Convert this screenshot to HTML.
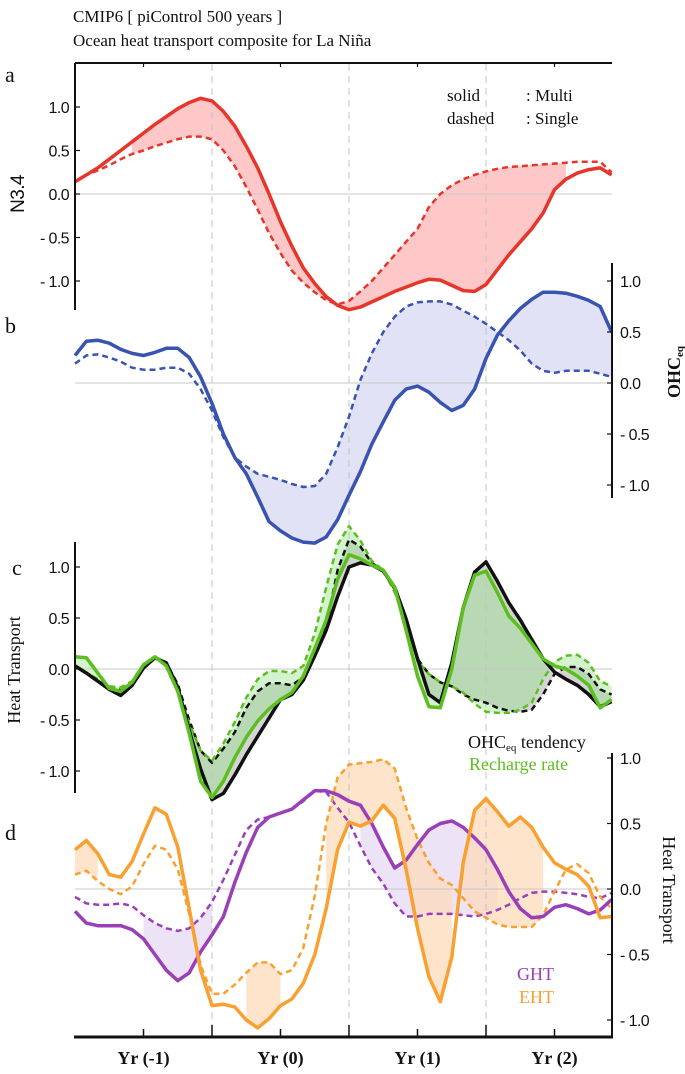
<!DOCTYPE html>
<html><head><meta charset="utf-8">
<style>
html,body{margin:0;padding:0;background:#fff;}
svg{display:block;}
.tk{font-family:"Liberation Sans",sans-serif;font-size:16px;fill:#111;letter-spacing:-0.6px;}
.sf{font-family:"Liberation Serif",serif;}
</style></head>
<body>
<svg id="chart" width="685" height="1074" viewBox="0 0 685 1074" xmlns="http://www.w3.org/2000/svg">
<text class="sf" x="73" y="22" font-size="17" fill="#111">CMIP6 [ piControl 500 years ]</text>
<text class="sf" x="73" y="46" font-size="17" fill="#111">Ocean heat transport composite for La Niña</text>
<g id="layer"></g>
</svg>
<script>
// ---- data (monthly, month 0 = start of Yr(-1)) ----
const n34Multi=[0.14,0.22,0.30,0.40,0.50,0.60,0.70,0.80,0.89,0.98,1.05,1.10,1.07,0.95,0.78,0.55,0.30,0.0,-0.32,-0.60,-0.85,-1.03,-1.18,-1.28,-1.33,-1.30,-1.24,-1.18,-1.12,-1.07,-1.02,-0.98,-0.99,-1.05,-1.11,-1.12,-1.04,-0.87,-0.70,-0.55,-0.40,-0.22,0.05,0.17,0.24,0.28,0.30,0.22];
const n34Single=[0.14,0.22,0.27,0.33,0.40,0.46,0.50,0.55,0.59,0.63,0.66,0.66,0.63,0.50,0.32,0.08,-0.18,-0.45,-0.68,-0.88,-1.02,-1.13,-1.22,-1.27,-1.23,-1.12,-1.0,-0.85,-0.70,-0.55,-0.40,-0.15,0.0,0.10,0.17,0.22,0.26,0.29,0.31,0.32,0.33,0.34,0.35,0.36,0.37,0.37,0.37,0.25];
const ohcMulti=[0.27,0.41,0.42,0.39,0.33,0.29,0.27,0.30,0.34,0.34,0.25,0.06,-0.20,-0.50,-0.73,-0.89,-1.12,-1.36,-1.45,-1.52,-1.56,-1.57,-1.51,-1.34,-1.10,-0.87,-0.60,-0.38,-0.17,-0.06,-0.03,-0.09,-0.19,-0.27,-0.22,-0.06,0.24,0.47,0.61,0.73,0.82,0.89,0.89,0.88,0.85,0.81,0.75,0.50];
const ohcSingle=[0.19,0.27,0.28,0.25,0.21,0.15,0.13,0.13,0.15,0.15,0.09,-0.06,-0.27,-0.53,-0.73,-0.82,-0.89,-0.92,-0.95,-0.99,-1.02,-1.01,-0.89,-0.63,-0.33,0.03,0.29,0.50,0.65,0.75,0.79,0.80,0.80,0.77,0.71,0.65,0.58,0.50,0.42,0.32,0.19,0.12,0.10,0.12,0.12,0.12,0.09,0.06];
const tendMulti=[0.03,-0.04,-0.12,-0.20,-0.26,-0.16,0.01,0.11,0.06,-0.18,-0.60,-0.98,-1.28,-1.22,-1.04,-0.84,-0.66,-0.48,-0.30,-0.25,-0.11,0.13,0.38,0.71,1.0,1.04,1.02,0.96,0.80,0.49,0.10,-0.25,-0.33,0.06,0.60,0.95,1.05,0.86,0.65,0.48,0.29,0.10,-0.03,-0.10,-0.16,-0.25,-0.37,-0.32];
const rechMulti=[0.12,0.11,-0.04,-0.19,-0.22,-0.13,0.04,0.12,0.03,-0.22,-0.63,-1.10,-1.26,-1.10,-0.87,-0.67,-0.51,-0.39,-0.30,-0.23,-0.07,0.20,0.48,0.88,1.12,1.08,1.02,0.97,0.80,0.38,-0.07,-0.37,-0.38,0.0,0.60,0.92,0.96,0.75,0.52,0.40,0.25,0.10,0.03,0.0,-0.07,-0.16,-0.38,-0.30];
const tendSingle=[0.03,-0.04,-0.10,-0.17,-0.21,-0.15,0.03,0.12,0.06,-0.15,-0.50,-0.80,-0.92,-0.78,-0.62,-0.38,-0.22,-0.14,-0.14,-0.16,-0.08,0.12,0.42,0.97,1.27,1.20,1.04,0.96,0.78,0.47,0.10,-0.05,-0.13,-0.17,-0.25,-0.30,-0.33,-0.38,-0.41,-0.42,-0.40,-0.25,-0.05,0.02,0.02,-0.05,-0.20,-0.25];
const rechSingle=[0.03,-0.04,-0.10,-0.17,-0.18,-0.12,0.05,0.12,0.03,-0.20,-0.53,-0.80,-0.90,-0.73,-0.52,-0.28,-0.10,-0.02,-0.02,-0.04,0.03,0.35,0.80,1.22,1.40,1.26,1.06,0.97,0.75,0.46,0.08,-0.05,-0.13,-0.17,-0.23,-0.34,-0.42,-0.43,-0.43,-0.40,-0.33,-0.10,0.07,0.13,0.14,0.06,-0.12,-0.17];
const ghtMulti=[-0.17,-0.26,-0.28,-0.28,-0.28,-0.31,-0.38,-0.50,-0.62,-0.70,-0.64,-0.48,-0.35,-0.21,0.05,0.28,0.47,0.55,0.58,0.61,0.68,0.75,0.75,0.72,0.67,0.64,0.50,0.32,0.16,0.22,0.34,0.45,0.50,0.52,0.47,0.39,0.30,0.15,-0.02,-0.15,-0.22,-0.21,-0.14,-0.12,-0.15,-0.19,-0.16,-0.08];
const ghtSingle=[-0.06,-0.11,-0.12,-0.12,-0.11,-0.13,-0.20,-0.26,-0.30,-0.32,-0.30,-0.22,-0.10,0.07,0.26,0.45,0.53,0.55,0.58,0.61,0.67,0.75,0.74,0.62,0.51,0.33,0.16,0.04,-0.11,-0.21,-0.21,-0.19,-0.19,-0.19,-0.20,-0.21,-0.19,-0.16,-0.12,-0.07,-0.03,-0.02,-0.02,-0.03,-0.04,-0.06,-0.07,-0.03];
const ehtMulti=[0.30,0.37,0.27,0.11,0.09,0.21,0.42,0.62,0.57,0.32,-0.15,-0.62,-0.89,-0.88,-0.90,-1.00,-1.06,-0.99,-0.89,-0.84,-0.72,-0.50,-0.15,0.30,0.51,0.48,0.52,0.64,0.54,0.15,-0.30,-0.67,-0.86,-0.52,0.20,0.60,0.69,0.59,0.48,0.55,0.47,0.32,0.20,0.15,0.11,0.02,-0.22,-0.21];
const ehtSingle=[0.11,0.14,0.06,0.0,-0.04,0.02,0.19,0.33,0.30,0.15,-0.19,-0.58,-0.80,-0.80,-0.73,-0.64,-0.56,-0.56,-0.65,-0.62,-0.45,-0.05,0.50,0.85,0.95,0.96,0.97,0.99,0.92,0.62,0.38,0.20,0.08,0.03,-0.07,-0.17,-0.22,-0.27,-0.29,-0.29,-0.29,-0.20,-0.02,0.15,0.19,0.12,-0.06,-0.15];
const ticksLeftRight=[1.0,0.5,0.0,-0.5,-1.0];
const tickLabels=["1.0","0.5","0.0","- 0.5","- 1.0"];
const yearLabels=["Yr (-1)","Yr (0)","Yr (1)","Yr (2)"];
const fillA=[[5,43]];
const fillB=[[15,47]];
const fillCgray=[[0,47]];
const fillCgreen=[[0,47]];
const fillDpurple=[[6,12],[25,37]];
const fillDorange=[[0,2],[15,18],[22,33],[34,41]];

// ---- axes ----
const X0=212, YEAR=137;
const xm=k=>X0+(k/12-1)*YEAR;
const ya=v=>194-v*87, yb=v=>383-v*102, yc=v=>669-v*102, yd=v=>889-v*131;
const L=document.getElementById('layer');
const NS='http://www.w3.org/2000/svg';
function mk(tag,attrs,parent){const e=document.createElementNS(NS,tag);for(const k in attrs)e.setAttribute(k,attrs[k]);(parent||L).appendChild(e);return e;}
function pts(arr,ys,i0,i1){let s=[];for(let i=i0;i<=i1;i++)s.push(xm(i).toFixed(1)+','+ys(arr[i]).toFixed(1));return s;}
function line(arr,ys,color,w,dash,name){
  const e=mk('polyline',{points:pts(arr,ys,0,arr.length-1).join(' '),fill:'none',stroke:color,'stroke-width':w,'stroke-linejoin':'round'});
  if(dash)e.setAttribute('stroke-dasharray',dash);
  
  
}
function area(a,b,ys,ranges,color,op,name){
  ranges.forEach(r=>{
    const p=pts(a,ys,r[0],r[1]).concat(pts(b,ys,r[0],r[1]).reverse());
    const e=mk('polygon',{points:p.join(' '),fill:color,'fill-opacity':op,stroke:'none'});
    
    
  });
}
function txt(x,y,s,attrs,name){const e=mk('text',Object.assign({x:x,y:y},attrs||{}));e.textContent=s;
  
  
  return e;}

// fills
area(n34Multi,n34Single,ya,fillA,'#ffc8c8',1,'n34-difference-fill');
area(ohcMulti,ohcSingle,yb,fillB,'#e2e2f6',1,'ohc-difference-fill');
area(tendMulti,tendSingle,yc,fillCgray,'#cfcfcf',0.9,'tendency-difference-fill');
area(rechMulti,rechSingle,yc,fillCgreen,'#8fe283',0.4,'recharge-difference-fill');
area(ghtMulti,ghtSingle,yd,fillDpurple,'#e9dcf5',0.8,'ght-difference-fill');
area(ehtMulti,ehtSingle,yd,fillDorange,'#fdd9b5',0.7,'eht-difference-fill');

// zero lines
[ya,yb,yc,yd].forEach((f,i)=>{const e=mk('line',{x1:75,x2:612,y1:f(0),y2:f(0),stroke:'#c8c8c8','stroke-width':1});
  
  });
// vertical dashed year lines
for(let y=0;y<3;y++){const x=X0+y*YEAR;const e=mk('line',{x1:x,x2:x,y1:64,y2:1037,stroke:'#c4c4c4','stroke-width':1,'stroke-dasharray':'7,5'});
  
  }

// series
line(n34Single,ya,'#e8352a',2.5,'6,4','n34-single-line');
line(n34Multi,ya,'#e8352a',3.5,null,'n34-multi-line');
line(ohcSingle,yb,'#3853b0',2.5,'6,4','ohc-single-line');
line(ohcMulti,yb,'#3853b0',3.5,null,'ohc-multi-line');
line(tendSingle,yc,'#111',2.5,'6,4','tendency-single-line');
line(rechSingle,yc,'#5cbf1f',2.5,'6,4','recharge-single-line');
line(tendMulti,yc,'#111',3.5,null,'tendency-multi-line');
line(rechMulti,yc,'#5cbf1f',3.5,null,'recharge-multi-line');
line(ghtSingle,yd,'#9b3fb8',2.5,'6,4','ght-single-line');
line(ehtSingle,yd,'#f9a030',2.5,'6,4','eht-single-line');
line(ghtMulti,yd,'#9b3fb8',3.5,null,'ght-multi-line');
line(ehtMulti,yd,'#f9a030',3.5,null,'eht-multi-line');

// axes
function axisLine(x1,y1,x2,y2,w,name){const e=mk('line',{x1:x1,y1:y1,x2:x2,y2:y2,stroke:'#111','stroke-width':w});
  
  }
axisLine(75,63,612,63,2,'top-axis');
axisLine(75,63,75,310,2,'panel-a-y-axis');
axisLine(612,263,612,498,2,'panel-b-y-axis');
axisLine(75,542,75,793,2,'panel-c-y-axis');
axisLine(612,753,612,1038,2,'panel-d-y-axis');
axisLine(74,1037,613,1037,3,'x-axis');
for(let y=0;y<4;y++){
  const xmid=X0+(y-0.5)*YEAR;
  axisLine(xmid,1037,xmid,1029,1.5,'x-minor-tick');
  axisLine(xmid,63,xmid,67,1.2,'top-minor-tick');
  if(y<3){const xb=X0+y*YEAR;axisLine(xb,1037,xb,1025,1.5,'x-major-tick');}
  txt(xmid,1064,yearLabels[y],{'text-anchor':'middle','class':'sf','font-size':'18','font-weight':'bold',fill:'#111'},'x-tick-label');
}
ticksLeftRight.forEach((v,i)=>{
  axisLine(75,ya(v),80,ya(v),1.2,'panel-a-tick');
  txt(69,ya(v)+6,tickLabels[i],{'text-anchor':'end','class':'tk'},'panel-a-tick-label');
  axisLine(612,yb(v),607,yb(v),1.2,'panel-b-tick');
  txt(620,yb(v)+6,tickLabels[i],{'class':'tk'},'panel-b-tick-label');
  axisLine(75,yc(v),80,yc(v),1.2,'panel-c-tick');
  txt(69,yc(v)+6,tickLabels[i],{'text-anchor':'end','class':'tk'},'panel-c-tick-label');
  axisLine(612,yd(v),607,yd(v),1.2,'panel-d-tick');
  txt(620,yd(v)+6,tickLabels[i],{'class':'tk'},'panel-d-tick-label');
});

// panel letters & titles
txt(5,82,'a',{'class':'sf','font-size':'22',fill:'#111'},'panel-a-label');
txt(5,333,'b',{'class':'sf','font-size':'22',fill:'#111'},'panel-b-label');
txt(12,575,'c',{'class':'sf','font-size':'22',fill:'#111'},'panel-c-label');
txt(5,840,'d',{'class':'sf','font-size':'22',fill:'#111'},'panel-d-label');
txt(0,0,'N3.4',{'class':'tk','style':'font-size:19px','text-anchor':'middle',transform:'translate(24,194) rotate(-90)'},'panel-a-y-title');
const ohc=txt(0,0,'OHC',{'class':'sf','font-size':'18','font-weight':'bold','text-anchor':'middle',fill:'#111',transform:'translate(680,372) rotate(-90)'},'panel-b-y-title');
const sub=mk('tspan',{'font-size':'11','dy':'3'},ohc);sub.textContent='eq';
txt(0,0,'Heat Transport',{'class':'sf','font-size':'18','text-anchor':'middle',fill:'#111',transform:'translate(20,670) rotate(-90)'},'panel-c-y-title');
txt(0,0,'Heat Transport',{'class':'sf','font-size':'18','text-anchor':'middle',fill:'#111',transform:'translate(663,890) rotate(90)'},'panel-d-y-title');

// legends
txt(447,101,'solid',{'class':'sf','font-size':'17',fill:'#111'},'legend-solid');
txt(526,101,': Multi',{'class':'sf','font-size':'17',fill:'#111'},'legend-multi');
txt(447,124,'dashed',{'class':'sf','font-size':'17',fill:'#111'},'legend-dashed');
txt(526,124,': Single',{'class':'sf','font-size':'17',fill:'#111'},'legend-single');
const oh=txt(468,748,'OHC',{'class':'sf','font-size':'18',fill:'#111'},'legend-ohc-tendency');
const s2=mk('tspan',{'font-size':'11','dy':'3'},oh);s2.textContent='eq';
const s3=mk('tspan',{'dy':'-3'},oh);s3.textContent=' tendency';
txt(469,770,'Recharge rate',{'class':'sf','font-size':'18',fill:'#5cbf1f'},'legend-recharge-rate');
txt(517,980,'GHT',{'class':'sf','font-size':'18',fill:'#9b3fb8'},'legend-ght');
txt(519,1003,'EHT',{'class':'sf','font-size':'18',fill:'#f9a030'},'legend-eht');
</script>
</body></html>
